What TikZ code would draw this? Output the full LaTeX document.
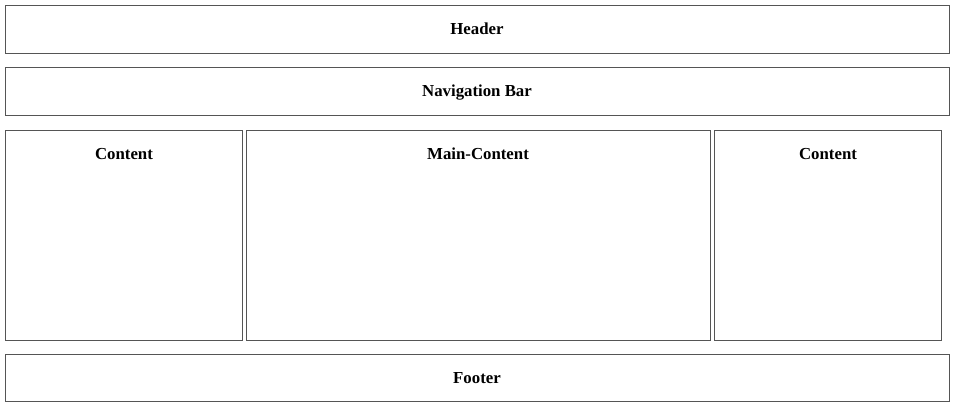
\documentclass[tikz,border=0pt]{standalone}
\usepackage{fontspec}
\setmainfont{Liberation Serif}
\definecolor{boxline}{RGB}{85,85,85}
\begin{document}
\begin{tikzpicture}[x=0.75pt,y=-0.75pt,
  panel/.style={draw=boxline,line width=0.75pt},
  lbl/.style={font=\bfseries\fontsize{12.6}{14}\selectfont,text=black,inner sep=0pt,anchor=base}]
\useasboundingbox[fill=white] (0,0) rectangle (956,417);
\draw[panel] (5.5,5.5) rectangle (949.5,53.5);
\node[lbl] (header) at (477,34.8) {Header};
\draw[panel] (5.5,67.5) rectangle (949.5,115.5);
\node[lbl] (nav) at (477,96.8) {Navigation Bar};
\draw[panel] (5.5,130.5) rectangle (242.5,340.5);
\node[lbl] (contentL) at (124,159.8) {Content};
\draw[panel] (246.5,130.5) rectangle (710.5,340.5);
\node[lbl] (main) at (478,159.8) {Main-Content};
\draw[panel] (714.5,130.5) rectangle (941.5,340.5);
\node[lbl] (contentR) at (828,159.8) {Content};
\draw[panel] (5.5,354.5) rectangle (949.5,401.5);
\node[lbl] (footer) at (477,383.8) {Footer};
\end{tikzpicture}
\end{document}
